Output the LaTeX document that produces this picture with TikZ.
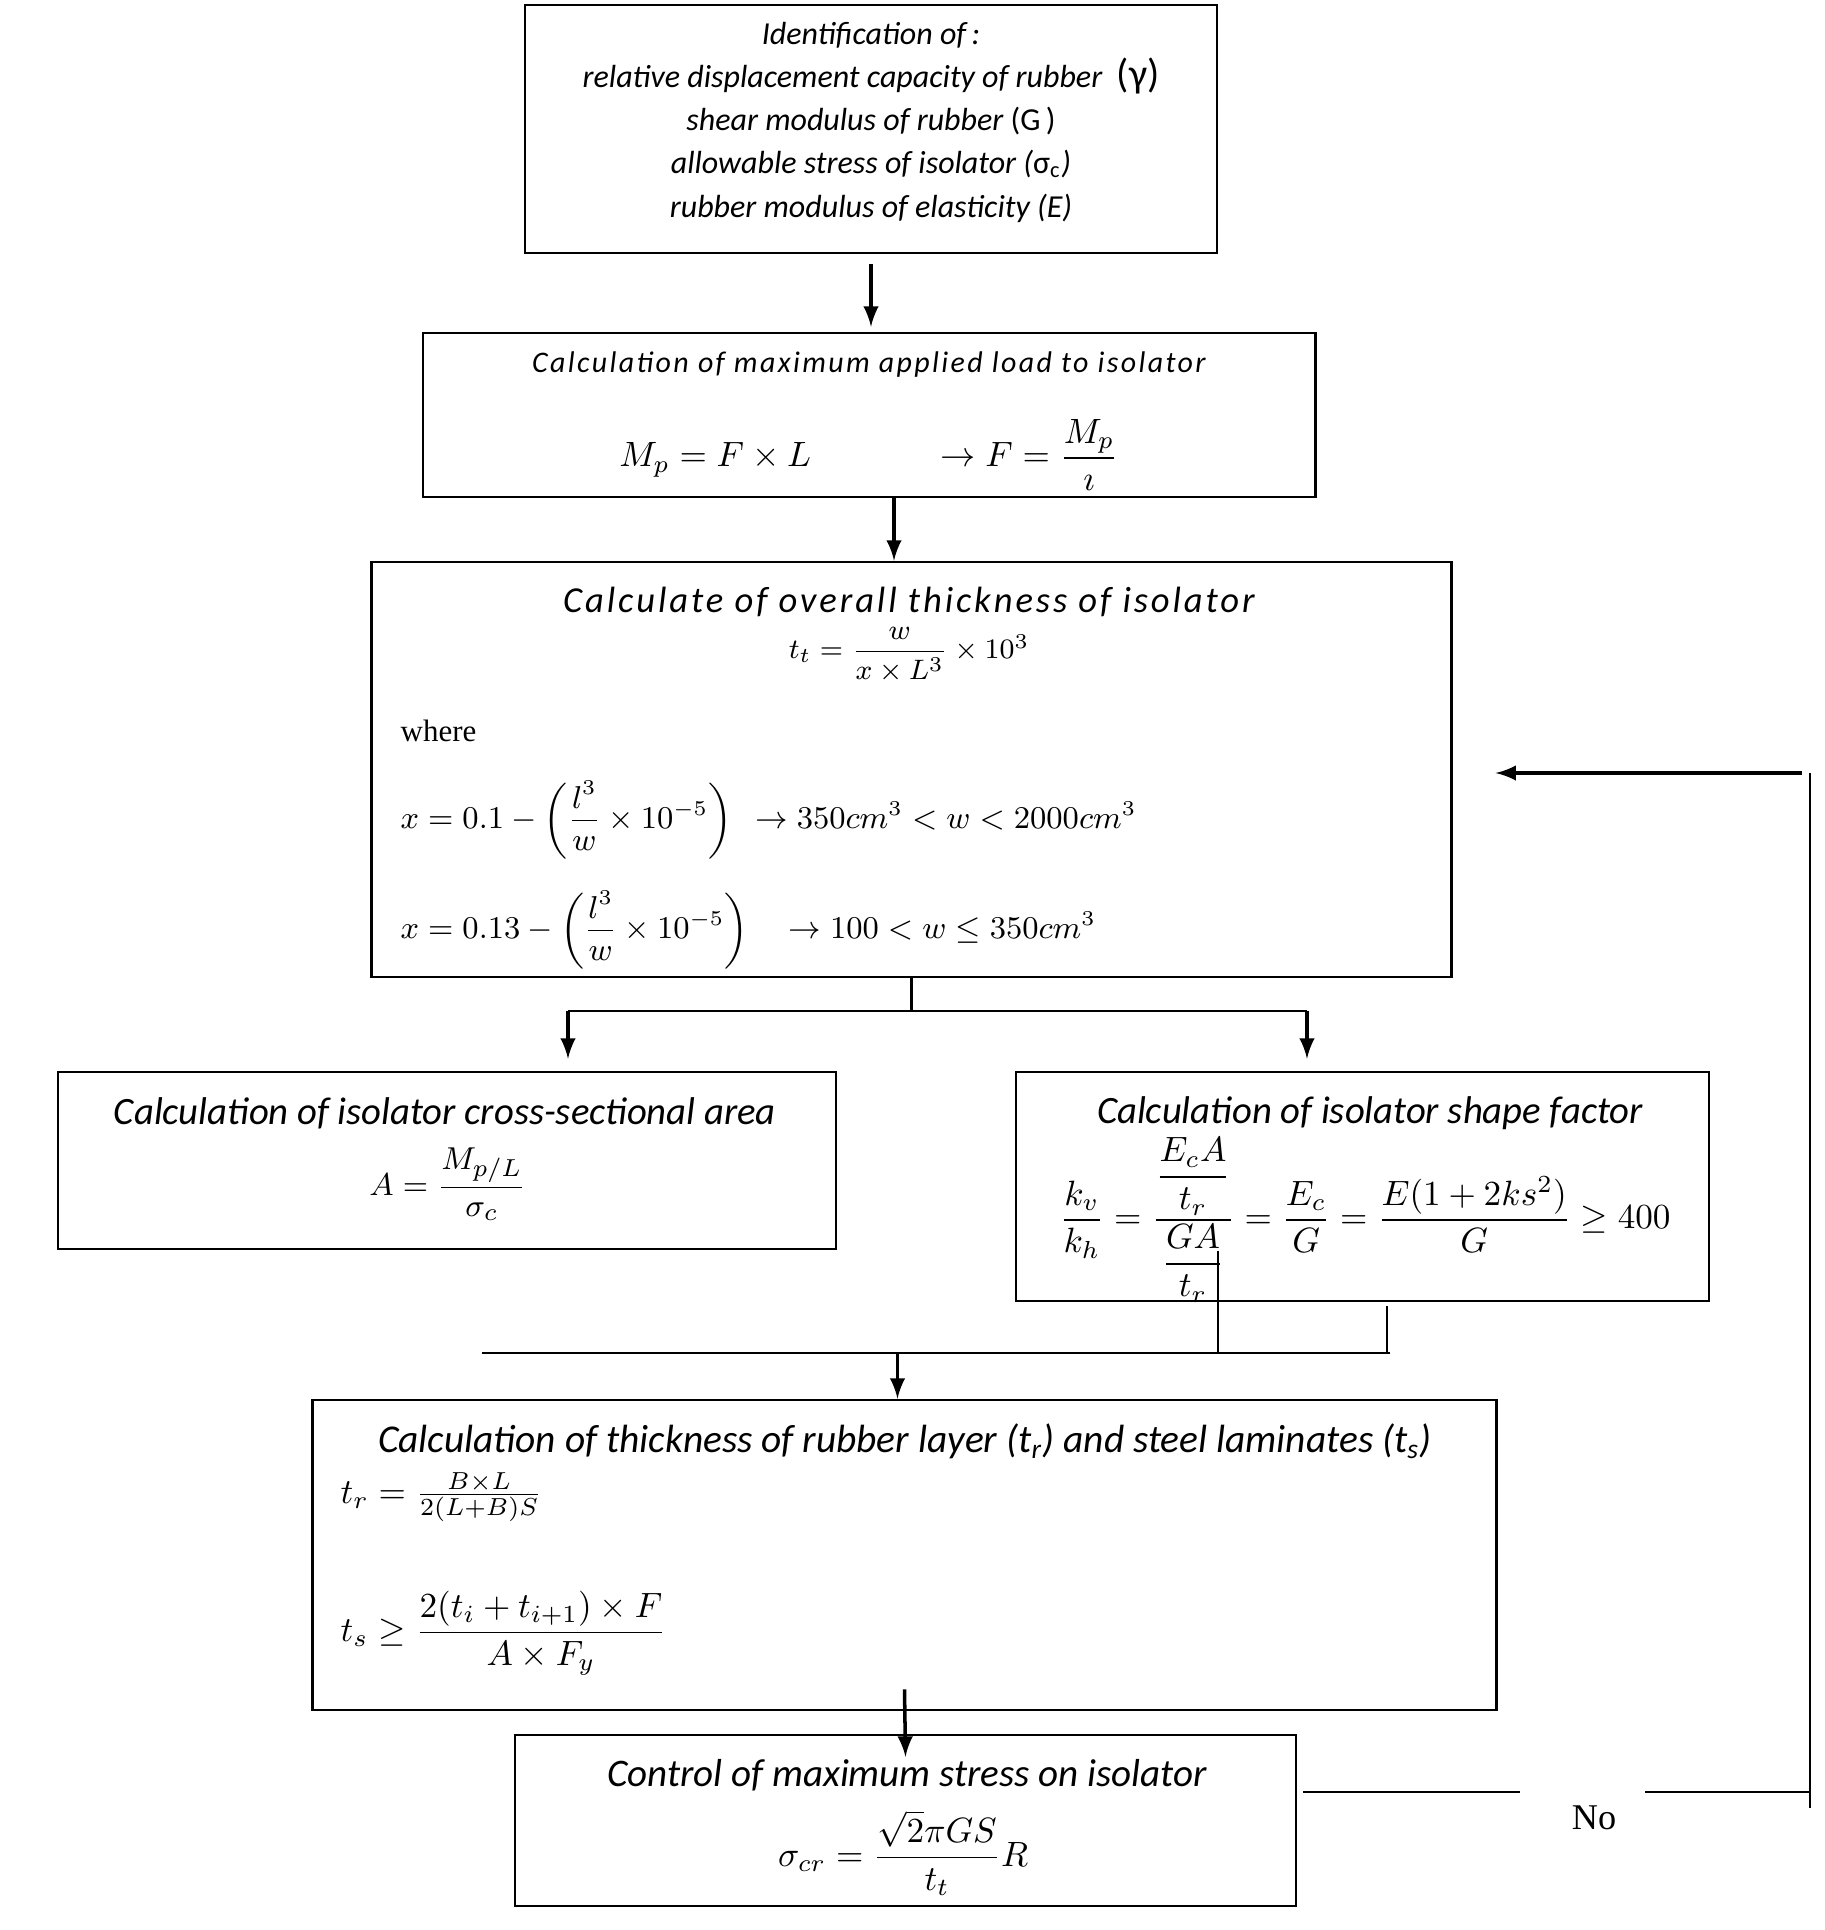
\documentclass[tikz,border=0pt]{standalone}
\usepackage{fontspec}
\usepackage{amsmath}
\usepackage{tikz}
\setmainfont{Carlito}
\newfontfamily\serif{Liberation Serif}
\usetikzlibrary{arrows}
\tikzstyle{blk}=[draw, line width=0.7pt, inner sep=0pt]
\tikzstyle{txt}=[inner sep=0pt]
\tikzstyle{wire}=[line width=0.6pt]
\tikzstyle{arr}=[line width=1pt, ->, >=latex]
\newcommand{\ttlfont}[1]{\fontsize{#1}{#1}\selectfont\itshape}
\newcommand{\eqfont}[1]{\fontsize{#1}{#1}\selectfont}

\begin{document}
\begin{tikzpicture}[x=0.01cm,y=-0.01cm]
  \useasboundingbox (0,0) rectangle (1825,1930);
  % boxes
  \node[blk, minimum width=6.92cm, minimum height=2.48cm] (ident) at (871,129) {};
  \node[blk, minimum width=8.92cm, minimum height=1.64cm] (load) at (869,415) {};
  \node[blk, minimum width=10.79cm, minimum height=4.15cm] (thick) at (911.5,769.5) {};
  \node[blk, minimum width=7.78cm, minimum height=1.77cm] (area) at (447,1160.5) {};
  \node[blk, minimum width=6.93cm, minimum height=2.29cm] (shape) at (1362.5,1186.5) {};
  \node[blk, minimum width=11.83cm, minimum height=3.10cm] (layer) at (904.5,1555) {};
  \node[blk, minimum width=7.81cm, minimum height=1.71cm] (control) at (905.5,1820.5) {};

  % texts
  \node[txt, align=center, font=\fontsize{9.1}{12.3}\selectfont\itshape] (identtxt) at (871,122)
    {Identification of\,:\\
     relative displacement capacity of rubber\ \ {\upshape\fontsize{11.5}{12.3}\selectfont(γ)}\\
     shear modulus of rubber {\upshape(G\,)}\\
     allowable stress of isolator ({\upshape σ\textsubscript{c}})\\
     rubber modulus of elasticity (E)};
  \node[txt, font=\ttlfont{8.5}\addfontfeature{LetterSpace=8}] (loadttl) at (869,365)
    {Calculation of maximum applied load to isolator};
  \node[txt, font=\eqfont{9.6}] (loadeq) at (869,455)
    {$M_p = F\times L\hspace{34pt}\to F=\dfrac{M_p}{\imath}$};
  \node[txt, font=\ttlfont{10.4}\addfontfeature{LetterSpace=8}] (thickttl) at (909,602)
    {Calculate of overall thickness of isolator};
  \node[txt, font=\eqfont{8.2}] (thickeq) at (909,655)
    {$t_t = \dfrac{w}{x\times L^3}\times 10^3$};
  \node[txt, anchor=west, font=\serif\fontsize{8.8}{10}\selectfont] (where) at (400,731) {where};
  \node[txt, anchor=west, font=\eqfont{8.8}] (xa) at (400,820)
    {$x = 0.1 - \left(\dfrac{l^3}{w}\times 10^{-5}\right)\ \ \to 350cm^3 < w < 2000cm^3$};
  \node[txt, anchor=west, font=\eqfont{8.8}] (xb) at (400,930)
    {$x = 0.13 - \left(\dfrac{l^3}{w}\times 10^{-5}\right)\quad \to 100 < w \leq 350cm^3$};
  \node[txt, font=\ttlfont{11}] (areattl) at (445,1113)
    {Calculation of isolator cross-sectional area};
  \node[txt, font=\eqfont{9.4}] (areaeq) at (448,1184)
    {$A = \dfrac{M_{p/L}}{\sigma_c}$};
  \node[txt, font=\ttlfont{11}] (shapettl) at (1370,1113)
    {Calculation of isolator shape factor};
  \node[txt, font=\eqfont{10}] (shapeeq) at (1365,1220)
    {$\dfrac{k_v}{k_h} = \dfrac{\dfrac{E_cA}{t_r}}{\dfrac{GA}{t_r}} = \dfrac{E_c}{G} = \dfrac{E(1+2ks^2)}{G} \geq 400$};
  \node[txt, font=\ttlfont{11.2}] (layerttl) at (905,1441)
    {Calculation of thickness of rubber layer (t\textsubscript{r}) and steel laminates (t\textsubscript{s})};
  \node[txt, anchor=west, font=\eqfont{9.8}] (treq) at (340,1497)
    {$t_r = \frac{B\times L}{2(L+B)S}$};
  \node[txt, anchor=west, font=\eqfont{10.2}] (tseq) at (340,1633)
    {$t_s \geq \dfrac{2(t_i+t_{i+1})\times F}{A\times F_y}$};
  \node[txt, font=\ttlfont{11.1}] (controlttl) at (907,1775)
    {Control of maximum stress on isolator};
  \node[txt, font=\eqfont{9.6}] (controleq) at (903,1853)
    {$\sigma_{cr} = \dfrac{\sqrt{2}\pi GS}{t_t}R$};
  \node[txt, font=\serif\fontsize{10.3}{12}\selectfont] (no) at (1594,1818) {No};

  % connectors
  \coordinate (fork) at (911.5,1011);
  \coordinate (forkl) at (568,1011);
  \coordinate (forkr) at (1307,1011);
  \coordinate (tapa) at (1218,1251);
  \coordinate (tapb) at (1387,1306);
  \coordinate (joinl) at (482,1353);
  \coordinate (joinr) at (1390,1353);
  \coordinate (noa) at (1520,1792);
  \coordinate (nob) at (1645,1792);
  \coordinate (corner) at (1810,773);
  \draw[arr] ([yshift=-0.1cm]ident.south) -- ([yshift=0.05cm]ident.south |- load.north);
  \draw[arr] ([xshift=0.25cm]load.south) -- ([xshift=0.25cm]load.south |- thick.north);
  \draw[wire] (thick.south) -- (fork);
  \draw[wire] (forkl) -- (forkr);
  \draw[arr] (forkl) -- ([yshift=0.12cm]forkl |- area.north);
  \draw[arr] (forkr) -- ([yshift=0.12cm]forkr |- shape.north);
  \draw[wire] (tapa) -- (tapa |- joinl);
  \draw[wire] (tapb) -- (tapb |- joinl);
  \draw[wire] (joinl) -- (joinr);
  \draw[arr] ([xshift=-0.07cm]layer.north |- joinl) -- ([xshift=-0.07cm]layer.north);
  \draw[arr] ([yshift=0.22cm]layer.south) -- ([yshift=-0.23cm]control.north);
  \draw[wire] ([xshift=0.06cm]control.east |- noa) -- (noa);
  \draw[wire] (nob) -- (nob -| corner);
  \draw[wire] ([yshift=-0.16cm]nob -| corner) -- (corner);
  \draw[arr] ([xshift=-0.08cm]corner) -- ([xshift=0.43cm]thick.east |- corner);
\end{tikzpicture}
\end{document}
